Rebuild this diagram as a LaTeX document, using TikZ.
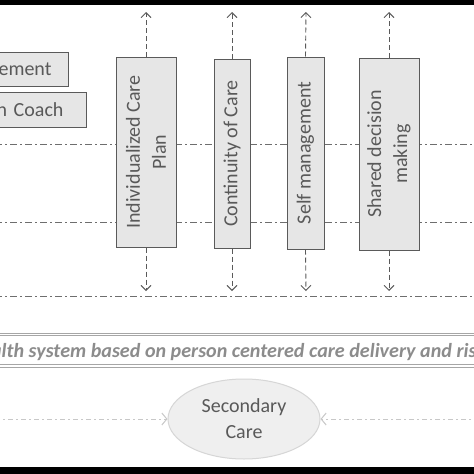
\documentclass[tikz,border=0pt]{standalone}
\usepackage{fontspec}
\setmainfont{Carlito}
\usetikzlibrary{arrows.meta,shapes.geometric}
\definecolor{boxfill}{HTML}{E6E6E6}
\definecolor{boxdraw}{HTML}{5A5A5A}
\definecolor{txt}{HTML}{595959}
\definecolor{lin}{HTML}{6E6E6E}
\definecolor{lightlin}{HTML}{C8C8C8}
\definecolor{banner}{HTML}{8C8C8C}
\definecolor{bannerline}{HTML}{A6A6A6}
\definecolor{ellfill}{HTML}{EFEFEF}
\definecolor{elldraw}{HTML}{D6D6D6}
\tikzset{
  base/.style={font=\fontsize{20}{26}\selectfont, text=txt},
  topbox/.style={base, draw=boxdraw, fill=boxfill, line width=1pt, align=right, anchor=east},
  vbox/.style={base, draw=boxdraw, fill=boxfill, line width=1pt, align=center},
  dashdot/.style={lin, line width=0.8pt, dash pattern=on 7pt off 3pt on 2pt off 3pt},
  lightdashdot/.style={lightlin, line width=1pt, dash pattern=on 5pt off 3pt on 2pt off 3pt},
  varrow/.style={boxdraw, line width=0.9pt, dash pattern=on 5pt off 3pt, -{Straight Barb[length=5pt,width=10pt]}},
  harrow/.style={lightdashdot, -{Straight Barb[length=5pt,width=12pt]}},
  bannerrule/.style={bannerline, line width=0.8pt},
}
\begin{document}
\begin{tikzpicture}[x=1pt,y=-1pt]
\useasboundingbox (0,0) rectangle (474,474);
\clip (0,0) rectangle (474,474);
\fill[white] (0,0) rectangle (474,474);
% horizontal dash-dot lines
\coordinate (l1a) at (-5,144); \coordinate (l1b) at (479,144);
\coordinate (l2a) at (-5,222); \coordinate (l2b) at (479,222);
\coordinate (l3a) at (-5,296); \coordinate (l3b) at (479,296);
\draw[dashdot] (l1a) -- (l1b);
\draw[dashdot] (l2a) -- (l2b);
\draw[dashdot] (l3a) -- (l3b);
% top-left boxes
\node[topbox, minimum height=34, text width=80, inner xsep=17] (mgmt) at (69,69) {ement};
\node[topbox, minimum height=35, text width=100, inner xsep=23] (coach) at (87,109.5) {n Coach};
% vertical boxes
\node[vbox, minimum width=190, minimum height=60, rotate=90] (icp) at (146,152) {Individualized Care\\Plan};
\node[vbox, minimum width=189, minimum height=36, rotate=90] (coc) at (232,153.5) {Continuity of Care};
\node[vbox, minimum width=192, minimum height=37, rotate=90] (sm) at (305.5,153) {Self management};
\node[vbox, minimum width=192, minimum height=60, rotate=90] (sdm) at (389,154) {Shared decision\\making};
% arrow ends
\coordinate (icpT) at (146,12); \coordinate (icpB) at (146,291);
\coordinate (cocT) at (232,12); \coordinate (cocB) at (232,291);
\coordinate (smT) at (306,12); \coordinate (smB) at (306,291);
\coordinate (sdmT) at (389,12); \coordinate (sdmB) at (389,291);
\draw[varrow] (icp.east) -- (icpT);
\draw[varrow] (coc.east) -- (cocT);
\draw[varrow] (sm.east) -- (smT);
\draw[varrow] (sdm.east) -- (sdmT);
\draw[varrow] (icp.west) -- (icpB);
\draw[varrow] (coc.west) -- (cocB);
\draw[varrow] (sm.west) -- (smB);
\draw[varrow] (sdm.west) -- (sdmB);
% banner
\draw[bannerrule] (-5,333) rectangle (479,367);
\draw[bannerrule] (-5,335.5) rectangle (479,364.5);
\node[font=\fontsize{20.1}{24}\selectfont\bfseries\itshape, text=banner, anchor=base west, inner sep=0pt] (bantext) at (-19,357) {ealth system based on person centered care delivery and risk};
% ellipse
\node[ellipse, draw=elldraw, fill=ellfill, line width=1pt, minimum width=152, minimum height=80, base, align=center, inner sep=0pt] (sec) at (244,419) {Secondary\\Care};
\coordinate (hl) at (-5,419); \coordinate (hr) at (479,419);
\draw[harrow] (hl) -- (sec.west);
\draw[harrow] (hr) -- (sec.east);
% black frame bars
\fill[black] (0,0) rectangle (474,5);
\fill[black] (0,467) rectangle (474,474);
\end{tikzpicture}
\end{document}
